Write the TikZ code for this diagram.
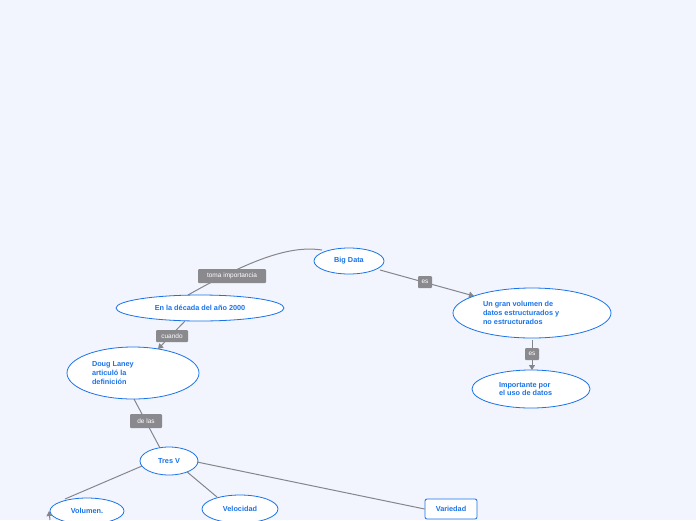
\documentclass[tikz,border=0pt]{standalone}
\usepackage{fontspec}
\setmainfont{Liberation Sans}
\usetikzlibrary{shapes.geometric,arrows.meta}
\definecolor{bg}{HTML}{F2F5FE}
\definecolor{nb}{HTML}{1A73E8}
\definecolor{ln}{HTML}{85868C}
\definecolor{lb}{HTML}{8A8A8E}
\tikzset{
 ell/.style={ellipse,draw=nb,thick,fill=white,inner sep=0pt,font=\bfseries\fontsize{7.3}{8.8}\selectfont,text=nb,align=left},
 rbox/.style={rectangle,rounded corners=2pt,draw=nb,thick,fill=white,font=\bfseries\fontsize{7.3}{8.8}\selectfont,text=nb},
 lab/.style={rectangle,fill=lb,text=white,font=\fontsize{6.5}{7}\selectfont,inner sep=0pt,rounded corners=1pt},
 con/.style={draw=ln,line width=1pt},
 arr/.style={con,-{Triangle[length=5pt,width=6pt]}}
}
\begin{document}
\begin{tikzpicture}[x=1pt,y=-1pt]
\fill[bg] (0,0) rectangle (696,520);
\useasboundingbox (0,0) rectangle (696,520);
\coordinate (bdl) at (322,250);
\coordinate (ded) at (188,295);
\coordinate (bdr) at (380,270);
\coordinate (uge) at (474,296);
\coordinate (ugs) at (532,340);
\coordinate (dcs) at (185,321);
\coordinate (dle) at (158,349);
\coordinate (dls) at (134,399);
\coordinate (tvn) at (160,448);
\coordinate (tvl) at (142,466);
\coordinate (von) at (65,499);
\coordinate (tvr) at (186,471);
\coordinate (ven) at (217,497);
\coordinate (tve) at (197,462);
\draw[con] (bdl) .. controls (290,245) and (250,260) .. (ded);
\draw[arr] (bdr) -- (uge);
\draw[arr] (ugs) -- (532,370);
\draw[arr] (dcs) -- (dle);
\draw[con] (dls) -- (tvn);
\draw[con] (tvl) -- (von);
\draw[con] (tvr) -- (ven);
\node[ell,minimum width=70,minimum height=26] (bd) at (349,261) {Big Data};
\node[ell,minimum width=168,minimum height=26] (dec) at (200,308) {En la década del año 2000};
\node[ell,minimum width=132,minimum height=52] (dl) at (133,373) {\hspace*{-22pt}\parbox{60pt}{Doug Laney\\articuló la\\definición}};
\node[ell,minimum width=158,minimum height=50] (ug) at (532,313) {\hspace*{-6pt}\parbox{92pt}{Un gran volumen de\\datos estructurados y\\no estructurados}};
\node[ell,minimum width=118,minimum height=38] (imp) at (531,389) {\parbox{64pt}{Importante por\\el uso de datos}};
\node[ell,minimum width=58,minimum height=28] (tv) at (169,461) {Tres V};
\node[ell,minimum width=74,minimum height=26] (vol) at (87,511) {Volumen.};
\node[ell,minimum width=76,minimum height=28] (vel) at (240,509) {Velocidad};
\node[rbox,minimum width=52,minimum height=20,inner sep=0pt] (var) at (451,509) {Variedad};
\draw[con] (tve) -- (var.west);
\draw[arr] (50,520) -- (49,511);
\node[lab,minimum width=68,minimum height=14] (l1) at (232,276) {toma importancia};
\node[lab,minimum width=32,minimum height=12] (l2) at (172,336) {cuando};
\node[lab,minimum width=32,minimum height=14] (l3) at (146,421) {de las};
\node[lab,minimum width=14,minimum height=12] (l4) at (425,282) {es};
\node[lab,minimum width=14,minimum height=12] (l5) at (532,354) {es};
\end{tikzpicture}
\end{document}
